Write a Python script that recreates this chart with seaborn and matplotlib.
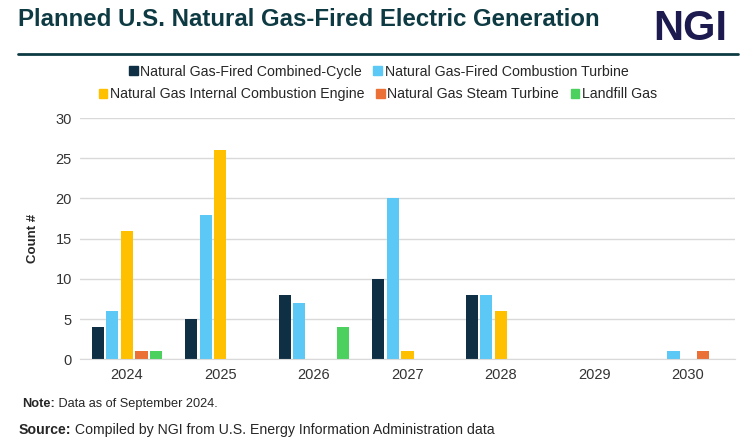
import matplotlib
matplotlib.use("Agg")
import matplotlib.pyplot as plt
import pandas as pd
import seaborn as sns

# Valores
anos = ["2024", "2025", "2026", "2027", "2028", "2029", "2030"]
series = [
    "Natural Gas-Fired Combined-Cycle",
    "Natural Gas-Fired Combustion Turbine",
    "Natural Gas Internal Combustion Engine",
    "Natural Gas Steam Turbine",
    "Landfill Gas",
]
combined_cycle = [4, 5, 8, 10, 8, 0, 0]
combustion_turbine = [6, 18, 7, 20, 8, 0, 1]
internal_combustion = [16, 26, 0, 1, 6, 0, 0]
steam_turbine = [1, 0, 0, 0, 0, 0, 1]
landfill_gas = [1, 0, 4, 0, 0, 0, 0]
cores = ["#0E2F44", "#5BC8F5", "#FFC000", "#EA7035", "#4CD05E"]

valores = [combined_cycle, combustion_turbine, internal_combustion, steam_turbine, landfill_gas]
df = pd.DataFrame(
    [(ano, s, v[i]) for s, v in zip(series, valores) for i, ano in enumerate(anos)],
    columns=["Ano", "Tipo", "Contagem"],
)

sns.set_style("white")
plt.rcParams["font.family"] = ["Liberation Sans", "DejaVu Sans"]

fig = plt.figure(figsize=(7.56, 4.44), dpi=100)
ax = fig.add_axes([0.106, 0.191, 0.866, 0.543])

sns.barplot(
    data=df, x="Ano", y="Contagem", hue="Tipo", hue_order=series,
    palette=cores, saturation=1, width=0.78, gap=0.17, linewidth=0, ax=ax, legend=False,
)

ax.set_ylim(0, 30)
ax.set_yticks(range(0, 31, 5))
ax.set_xlim(-0.5, len(anos) - 0.5)
ax.yaxis.grid(True, color="#D9D9D9", linewidth=1)
ax.set_axisbelow(True)
for lado in ["left", "right", "top"]:
    ax.spines[lado].set_visible(False)
ax.spines["bottom"].set_color("#D9D9D9")
ax.tick_params(axis="both", length=0, labelsize=10.5, colors="#333333", pad=6)
ax.set_xlabel("")
ax.set_ylabel("Count #", fontsize=9.5, fontweight="bold", labelpad=12)

# Legenda em duas linhas, como no original
handles = [plt.Rectangle((0, 0), 1, 1, color=c) for c in cores]
estilo = dict(frameon=False, fontsize=10.2, handlelength=0.6, handleheight=0.6,
              handletextpad=0.2, columnspacing=0.8, borderaxespad=0)
fig.legend(handles[:2], series[:2], ncol=2, loc="center", bbox_to_anchor=(0.501, 0.838), **estilo)
fig.legend(handles[2:], series[2:], ncol=3, loc="center", bbox_to_anchor=(0.500, 0.788), **estilo)

# Título, linha e logotipo
fig.text(0.024, 0.957, "Planned U.S. Natural Gas-Fired Electric Generation",
         fontsize=17.3, fontweight="bold", color="#0E3B43", va="center", ha="left")
fig.text(0.962, 0.935, "NGI", fontsize=30, fontweight="bold", color="#1C1A4E",
         va="center", ha="right")
fig.add_artist(plt.Line2D([0.024, 0.976], [0.878, 0.878], color="#0E3B43", linewidth=2))

# Notas de rodapé
nota = fig.text(0.029, 0.09, "Note:", fontsize=9.2, fontweight="bold", va="center")
ax.annotate(" Data as of September 2024.", xy=(1, 0.5), xycoords=nota,
            fontsize=9.2, va="center", ha="left")
fonte = fig.text(0.024, 0.032, "Source:", fontsize=10.2, fontweight="bold", va="center")
ax.annotate(" Compiled by NGI from U.S. Energy Information Administration data", xy=(1, 0.5),
            xycoords=fonte, fontsize=10.2, va="center", ha="left")

plt.savefig("out.png", dpi=100)
plt.close()
